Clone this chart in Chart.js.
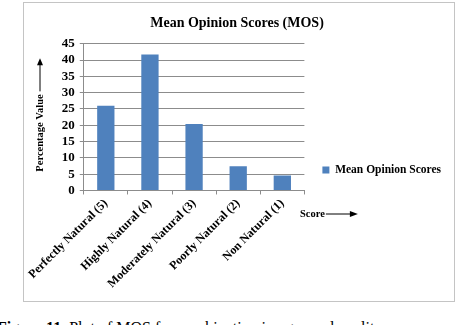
<!DOCTYPE html>
<html>
<head>
<meta charset="utf-8">
<script src="https://cdn.jsdelivr.net/npm/chart.js@4"></script>
<style>
  html, body { margin: 0; padding: 0; background: #fff; width: 474px; height: 325px; overflow: hidden; }
  #box { position: absolute; left: 23px; top: 2px; width: 432px; height: 300px; box-sizing: border-box; border: 1px solid #c4c4c4; }
  #wrap { position: absolute; left: 23px; top: 3px; width: 432px; height: 298px; }
  #caption { position: absolute; left: -3px; top: 320px; line-height: 16px; font-family: "Liberation Serif", serif; font-size: 16px; white-space: nowrap; color: #000; }
</style>
</head>
<body>
<div id="box"></div>
<div id="wrap"><canvas id="c"></canvas></div>
<div id="caption"><b>Figure 11.</b> Plot of MOS for combination images and quality</div>
<script>
const categories = ["Perfectly Natural (5)", "Highly Natural (4)", "Moderately Natural (3)", "Poorly Natural (2)", "Non Natural (1)"];
const mosValues = [26, 41.7, 20.4, 7.4, 4.6];
const seriesName = "Mean Opinion Scores";
const chartTitle = "Mean Opinion Scores (MOS)";
const yAxisTitle = "Percentage Value";
const xAxisTitle = "Score";

const serif = "'Liberation Serif', 'Times New Roman', serif";

const arrowLabels = {
  id: 'arrowLabels',
  afterDraw(chart) {
    const ctx = chart.ctx;
    ctx.save();
    ctx.fillStyle = '#000';
    ctx.strokeStyle = '#000';
    ctx.lineWidth = 1;
    ctx.font = "bold 10.5px " + serif;
    // y axis title rotated
    ctx.save();
    ctx.translate(17, 130);
    ctx.rotate(-Math.PI / 2);
    ctx.textAlign = 'center';
    ctx.textBaseline = 'middle';
    ctx.fillText(yAxisTitle, 0, 0);
    const w = ctx.measureText(yAxisTitle).width;
    ctx.beginPath();
    ctx.moveTo(w / 2 + 3, 0);
    ctx.lineTo(w / 2 + 30, 0);
    ctx.stroke();
    ctx.beginPath();
    ctx.moveTo(w / 2 + 36, 0);
    ctx.lineTo(w / 2 + 29, -3);
    ctx.lineTo(w / 2 + 29, 3);
    ctx.closePath();
    ctx.fill();
    ctx.restore();
    // x axis "Score" arrow
    ctx.textAlign = 'left';
    ctx.textBaseline = 'middle';
    ctx.fillText(xAxisTitle, 277, 211);
    const sw = ctx.measureText(xAxisTitle).width;
    ctx.beginPath();
    ctx.moveTo(277 + sw + 1, 211);
    ctx.lineTo(277 + sw + 26, 211);
    ctx.stroke();
    ctx.beginPath();
    ctx.moveTo(277 + sw + 33, 211);
    ctx.lineTo(277 + sw + 25, 208);
    ctx.lineTo(277 + sw + 25, 214);
    ctx.closePath();
    ctx.fill();
    ctx.restore();
  }
};

new Chart(document.getElementById('c'), {
  type: 'bar',
  data: {
    labels: categories,
    datasets: [{
      label: seriesName,
      data: mosValues,
      backgroundColor: '#4F81BD',
      borderWidth: 0,
      categoryPercentage: 0.8,
      barPercentage: 0.49
    }]
  },
  options: {
    responsive: true,
    maintainAspectRatio: false,
    animation: false,
    events: [],
    layout: { padding: { left: 0, right: 4, top: 0, bottom: 8 } },
    plugins: {
      title: {
        display: true,
        text: chartTitle,
        color: '#000',
        font: { family: serif, size: 14, weight: 'bold' },
        padding: { top: 12, bottom: 12 }
      },
      legend: {
        display: true,
        position: 'right',
        align: 'center',
        maxWidth: 200,
        title: { display: true, text: ' ', padding: { top: 16, bottom: 16 }, font: { size: 10 } },
        labels: {
          color: '#000',
          boxWidth: 7,
          boxHeight: 7,
          padding: 18,
          font: { family: serif, size: 11.5, weight: 'bold' }
        }
      },
      tooltip: { enabled: false }
    },
    scales: {
      x: {
        grid: { display: true, drawOnChartArea: false, drawTicks: true, tickLength: 4, color: '#8c8c8c', offset: true },
        border: { display: true, color: '#8c8c8c' },
        ticks: {
          color: '#000',
          font: { family: serif, size: 12, weight: 'bold' },
          maxRotation: 45,
          minRotation: 45,
          autoSkip: false,
          padding: 2
        }
      },
      y: {
        min: 0,
        max: 45,
        afterFit(scale) { scale.width = 59; },
        ticks: {
          stepSize: 5,
          autoSkip: false,
          color: '#000',
          font: { family: serif, size: 13, weight: 'bold' },
          padding: 5
        },
        grid: { color: '#8c8c8c', tickLength: 4 },
        border: { display: true, color: '#8c8c8c' }
      }
    }
  },
  plugins: [arrowLabels]
});
</script>
</body>
</html>
